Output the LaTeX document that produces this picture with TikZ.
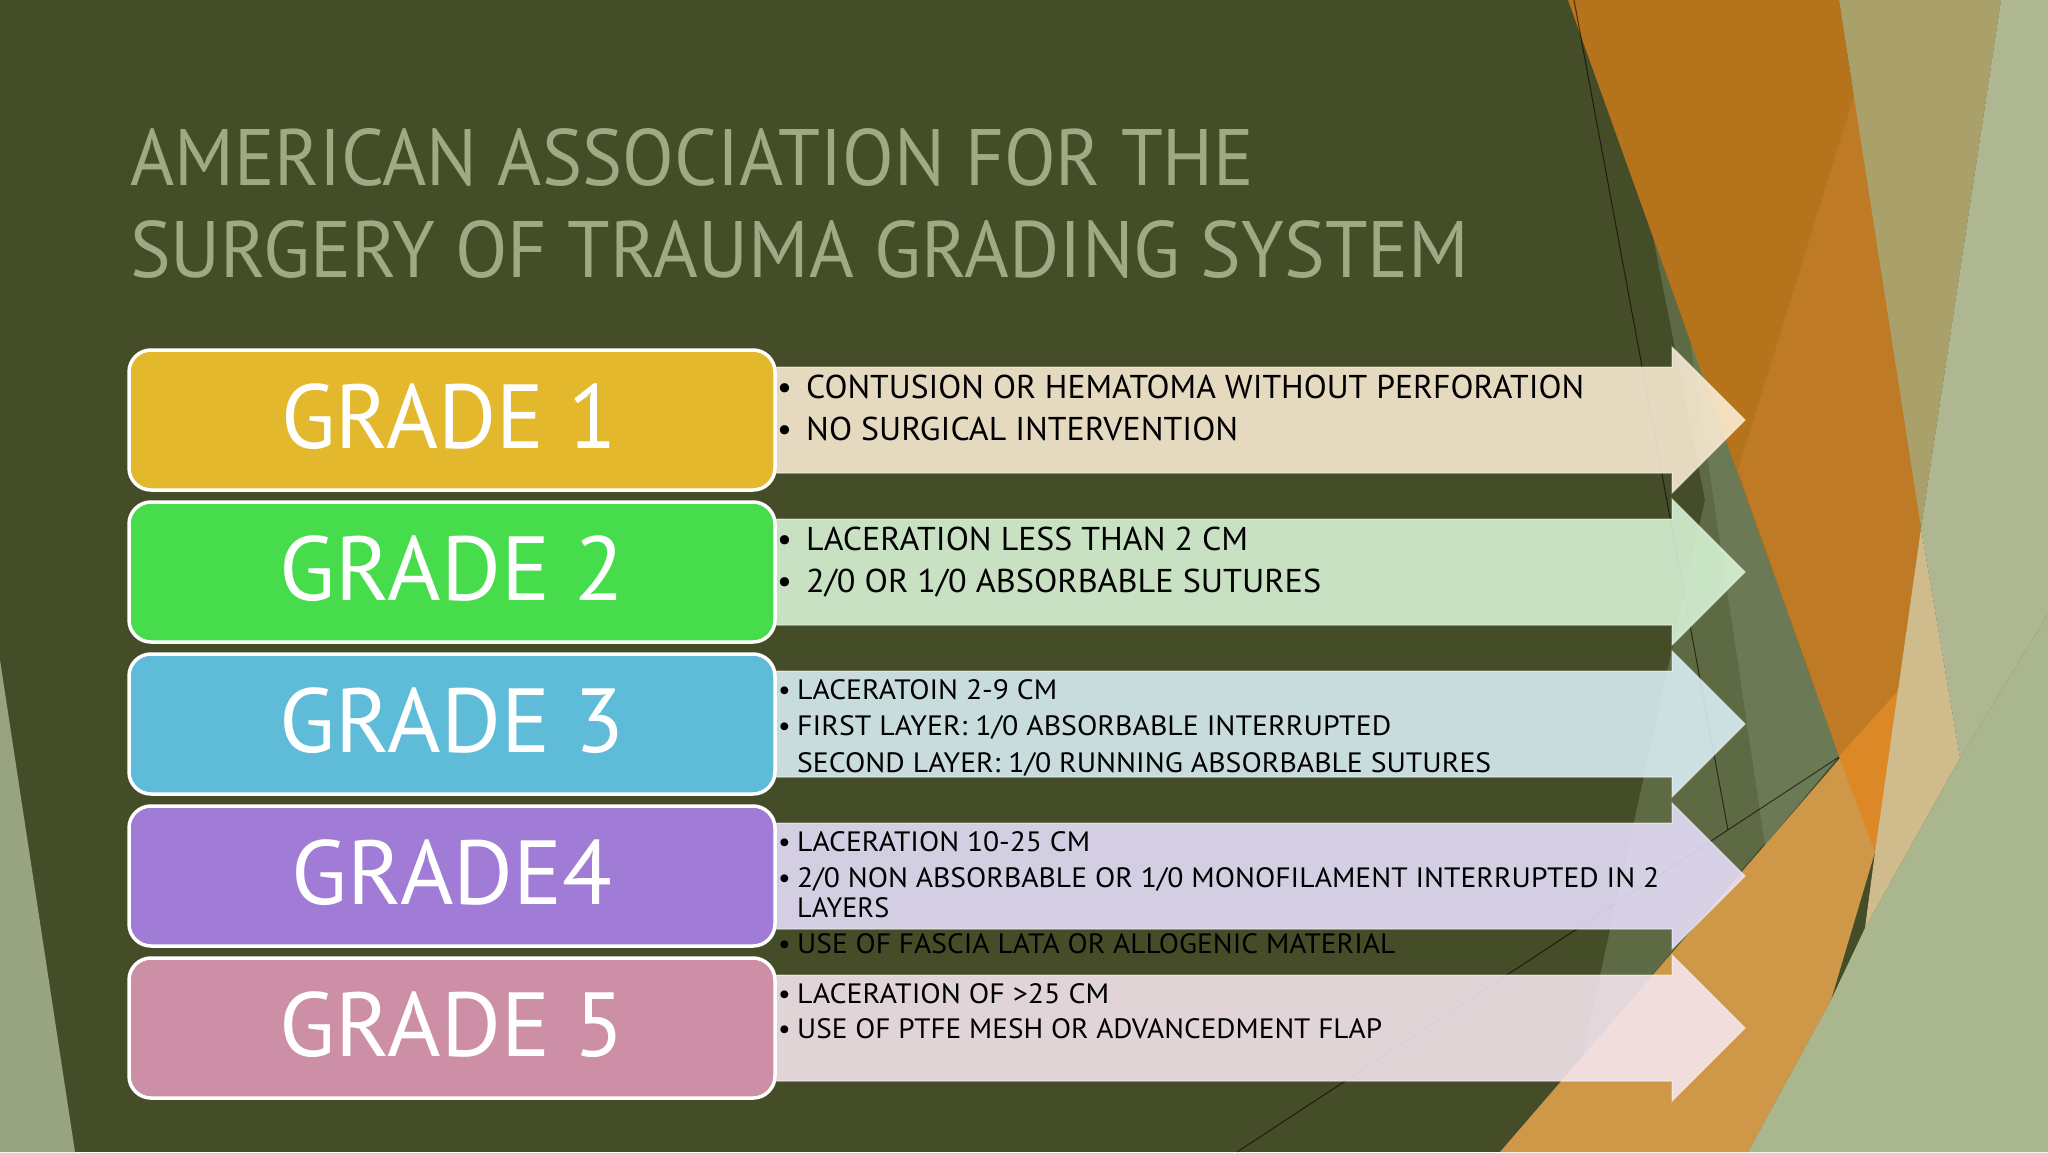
\documentclass[tikz,border=0pt]{standalone}
\usepackage{fontspec}
\setmainfont{PT Sans}
\usepackage{graphicx}
\newcommand\fitw[2]{\resizebox{#1}{\height}{#2}}
\definecolor{bgol}{HTML}{454C28}
\definecolor{leftsage}{HTML}{98A47F}
\definecolor{ordark}{HTML}{B5741C}
\definecolor{orlight}{HTML}{BE7A25}
\definecolor{khaki}{HTML}{AAA06A}
\definecolor{sageup}{HTML}{AEB692}
\definecolor{sagelow}{HTML}{AAB68D}
\definecolor{paletan}{HTML}{CFBB8B}
\definecolor{orbright}{HTML}{DC8826}
\definecolor{orband}{HTML}{CE9848}
\definecolor{medA}{HTML}{5D6A44}
\definecolor{medB}{HTML}{6B7A55}
\definecolor{titlecol}{HTML}{9EAA84}
\definecolor{gA}{HTML}{E3B82C}
\definecolor{gB}{HTML}{46DC4C}
\definecolor{gC}{HTML}{5FBCD8}
\definecolor{gD}{HTML}{A07CD6}
\definecolor{gE}{HTML}{CC8FA5}
\definecolor{aA}{HTML}{FCEDD4}
\definecolor{aB}{HTML}{DAF6D8}
\definecolor{aC}{HTML}{DCF0F7}
\definecolor{aD}{HTML}{E8E0FC}
\definecolor{aE}{HTML}{F6E7F0}
\newcommand\garrow[2]{%
  \fill[#2, fill opacity=0.88, draw=white, draw opacity=0.35, line width=1.5pt]
    (760,#1-53) -- (1672,#1-53) -- (1672,#1-73) -- (1745,#1) --
    (1672,#1+73) -- (1672,#1+53) -- (760,#1+53) -- cycle;}
\tikzset{
  gradebox/.style={draw=white, line width=3.5pt, rounded corners=22pt,
    minimum width=646pt, minimum height=140pt, inner sep=0pt},
  gradetxt/.style={anchor=base, inner sep=0pt, text=white,
    font=\fontsize{91}{91}\selectfont},
  titletxt/.style={anchor=base west, inner sep=0pt, text=titlecol,
    font=\fontsize{80}{80}\selectfont},
  bigtxt/.style={anchor=base west, inner sep=0pt, text=black,
    font=\fontsize{33}{33}\selectfont},
  smalltxt/.style={anchor=base west, inner sep=0pt, text=black,
    font=\fontsize{28}{28}\selectfont},
  bigbul/.style={anchor=base, inner sep=0pt, text=black,
    font=\fontsize{33}{33}\selectfont},
  smallbul/.style={anchor=base, inner sep=0pt, text=black,
    font=\fontsize{28}{28}\selectfont},
  thinline/.style={draw=black, draw opacity=0.6, line width=1pt}
}
\begin{document}
\begin{tikzpicture}[x=1pt,y=-1pt]
\useasboundingbox (0,0) rectangle (2048,1152);
\fill[bgol] (0,0) rectangle (2048,1152);
% left wedge
\fill[leftsage] (0,660) -- (75,1152) -- (0,1152) -- cycle;
% right decorations
\fill[medA] (1653,237) -- (1705,500) -- (1582,1057) -- (1839,756) -- cycle;
\fill[medB] (1690,340) -- (1765,845) -- (1839,756) -- cycle;
\fill[ordark] (1568,0) -- (1839,0) -- (1921,528) -- (1875,852) -- (1839,756) -- cycle;
\fill[orlight] (1862,70) -- (1921,528) -- (1875,852) -- (1839,756) -- (1738,470) -- cycle;
\fill[khaki] (1839,0) -- (2001,0) -- (1921,528) -- cycle;
\fill[sageup] (2001,0) -- (2048,0) -- (2048,614) -- (1960,758) -- (1921,528) -- cycle;
\fill[orband] (1500,1152) -- (1898,691) -- (1875,852) -- (1831,1000) -- (1748,1152) -- cycle;
\fill[orbright] (1839,756) -- (1898,691) -- (1875,852) -- cycle;
\fill[paletan] (1921,528) -- (1960,758) -- (1865,928) -- (1875,852) -- cycle;
\fill[sagelow] (1748,1152) -- (1831,1000) -- (1865,928) -- (1960,758) -- (2048,614) -- (2048,1152) -- cycle;
\coordinate (la) at (1574,0);
\coordinate (lb) at (1728,830);
\coordinate (lc) at (1237,1152);
\coordinate (ld) at (1839,757);
\draw[thinline] (la) -- (lb);
\draw[thinline] (lc) -- (ld);
% title
\node[titletxt] (title1) at (130,185) {\fitw{1124pt}{AMERICAN ASSOCIATION FOR THE}};
\node[titletxt] (title2) at (130,277) {\fitw{1339pt}{SURGERY OF TRAUMA GRADING SYSTEM}};
% arrows
\garrow{420}{aA}
\garrow{572}{aB}
\garrow{724}{aC}
\garrow{876}{aD}
\garrow{1028}{aE}
% grade boxes
\node[gradebox, fill=gA] (g1) at (452,420) {};
\node[gradebox, fill=gB] (g2) at (452,572) {};
\node[gradebox, fill=gC] (g3) at (452,724) {};
\node[gradebox, fill=gD] (g4) at (452,876) {};
\node[gradebox, fill=gE] (g5) at (452,1028) {};
\node[gradetxt] (l1) at (449,448) {\fitw{335pt}{GRADE 1}};
\node[gradetxt] (l2) at (452,600) {\fitw{345pt}{GRADE 2}};
\node[gradetxt] (l3) at (452,752) {\fitw{345pt}{GRADE 3}};
\node[gradetxt] (l4) at (452,904) {\fitw{320pt}{GRADE4}};
\node[gradetxt] (l5) at (452,1056) {\fitw{345pt}{GRADE 5}};
% grade 1 text
\node[bigbul] (b11) at (784.5,398) {\textbullet};
\node[bigtxt] (t11) at (806,398) {\fitw{778pt}{CONTUSION OR HEMATOMA WITHOUT PERFORATION}};
\node[bigbul] (b12) at (784.5,440) {\textbullet};
\node[bigtxt] (t12) at (806,440) {\fitw{432pt}{NO SURGICAL INTERVENTION}};
% grade 2 text
\node[bigbul] (b21) at (784.5,550) {\textbullet};
\node[bigtxt] (t21) at (806,550) {\fitw{442pt}{LACERATION LESS THAN 2 CM}};
\node[bigbul] (b22) at (784.5,592) {\textbullet};
\node[bigtxt] (t22) at (806,592) {\fitw{515pt}{2/0 OR 1/0 ABSORBABLE SUTURES}};
% grade 3 text
\node[smallbul] (b31) at (784.5,699) {\textbullet};
\node[smalltxt] (t31) at (797,699) {\fitw{260pt}{LACERATOIN 2-9 CM}};
\node[smallbul] (b32) at (784.5,735) {\textbullet};
\node[smalltxt] (t32) at (797,735) {\fitw{594pt}{FIRST LAYER: 1/0 ABSORBABLE INTERRUPTED}};
\node[smalltxt] (t33) at (797,772) {\fitw{694pt}{SECOND LAYER: 1/0 RUNNING ABSORBABLE SUTURES}};
% grade 4 text
\node[smallbul] (b41) at (784.5,851) {\textbullet};
\node[smalltxt] (t41) at (797,851) {\fitw{293pt}{LACERATION 10-25 CM}};
\node[smallbul] (b42) at (784.5,887) {\textbullet};
\node[smalltxt] (t42) at (797,887) {\fitw{862pt}{2/0 NON ABSORBABLE OR 1/0 MONOFILAMENT INTERRUPTED IN 2}};
\node[smalltxt] (t43) at (797,917) {\fitw{92pt}{LAYERS}};
\node[smallbul] (b44) at (784.5,953) {\textbullet};
\node[smalltxt] (t44) at (797,953) {\fitw{598pt}{USE OF FASCIA LATA OR ALLOGENIC MATERIAL}};
% grade 5 text
\node[smallbul] (b51) at (784.5,1003) {\textbullet};
\node[smalltxt] (t51) at (797,1003) {\fitw{312pt}{LACERATION OF >25 CM}};
\node[smallbul] (b52) at (784.5,1038) {\textbullet};
\node[smalltxt] (t52) at (797,1038) {\fitw{585pt}{USE OF PTFE MESH OR ADVANCEDMENT FLAP}};
\end{tikzpicture}
\end{document}
